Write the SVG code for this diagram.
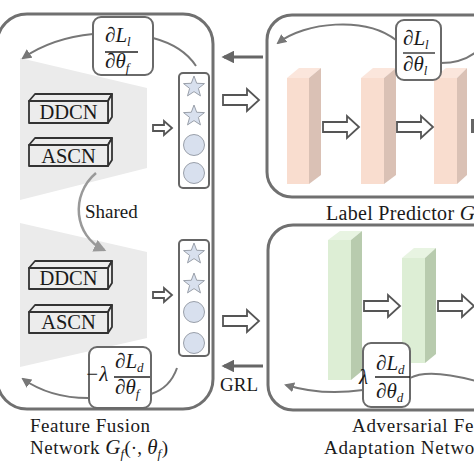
<svg xmlns="http://www.w3.org/2000/svg" width="474" height="474" viewBox="0 0 474 474">
<style>
.panel{fill:none;stroke:#707070;stroke-width:3}
.lbox{fill:#fff;stroke:#6a6a6a;stroke-width:2}
.trap{fill:#ebebeb;stroke:none}
.blk{fill:#ececec;stroke:#333;stroke-width:1.8;stroke-linejoin:round}
.col{fill:none;stroke:#666;stroke-width:2}
.star{fill:#d8e0ee;stroke:#9aa0aa;stroke-width:1}
.dot{fill:#d8e0ee;stroke:#9aa0aa;stroke-width:1}
.ha{fill:#fff;stroke:#555;stroke-width:1.8;stroke-linejoin:miter}
.cur{fill:none;stroke:#777;stroke-width:2}
.gl{fill:none;stroke:#666;stroke-width:3.2}
.t{font-family:"Liberation Serif","Times New Roman",serif;fill:#1a1a1a}
.m{font-family:"Liberation Serif","Times New Roman",serif;font-style:italic;fill:#1a1a1a;font-size:21px}
.s{font-size:13px}
.fl{stroke:#222;stroke-width:1.3}
.pf{fill:#f9ddcf}
.ps{fill:#dac1b5}
.pt{fill:#fbe6dc}
.gf{fill:#ddeed5}
.gs{fill:#b8cbae}
.gt{fill:#e8f4e2}
</style>
<defs>
<path id="star" d="M0,-11 L2.7,-3.72 L10.46,-3.4 L4.37,1.42 L6.47,8.9 L0,4.6 L-6.47,8.9 L-4.37,1.42 L-10.46,-3.4 L-2.7,-3.72 Z"/>
<path id="bigArrow" d="M0,-5 H24 V-11 L36,0 L24,11 V5 H0 Z"/>
<path id="smallArrow" d="M0,-3 H11 V-7 L19,0 L11,7 V3 H0 Z"/>
<marker id="ah" viewBox="0 0 10 10" refX="8" refY="5" markerWidth="5" markerHeight="5" orient="auto">
<path d="M0,0 L10,5 L0,10 Z" fill="#777"/>
</marker>
<marker id="ahs" viewBox="0 0 10 10" refX="8" refY="5" markerWidth="5" markerHeight="5" orient="auto">
<path d="M0,0 L10,5 L0,10 Z" fill="#999"/>
</marker>
<marker id="ahg" viewBox="0 0 10 10" refX="8" refY="5" markerWidth="4" markerHeight="4" orient="auto">
<path d="M0,0 L10,5 L0,10 Z" fill="#666"/>
</marker>
</defs>

<g id="feature-fusion-network">
<rect class="panel" x="-3" y="14" width="216" height="395" rx="30"/>
<g id="upper-branch">
<polygon class="trap" points="20,58 147,88 147,168 20,200"/>
<g id="ddcn-top">
<polygon class="blk" points="29,101 35,94 112,94 108,101"/>
<polygon class="blk" points="108,101 112,94 112,117 108,123"/>
<rect class="blk" x="29" y="101" width="79" height="22"/>
<text class="t" x="68.5" y="119" font-size="20.5" text-anchor="middle">DDCN</text>
</g>
<g id="ascn-top">
<polygon class="blk" points="29,145 35,138 112,138 108,145"/>
<polygon class="blk" points="108,145 112,138 112,160 108,166"/>
<rect class="blk" x="29" y="145" width="79" height="21"/>
<text class="t" x="68.5" y="163" font-size="20.5" text-anchor="middle">ASCN</text>
</g>
<use href="#smallArrow" class="ha" transform="translate(153,128)"/>
<g id="features-top">
<rect class="col" x="179" y="73" width="30" height="115" rx="4"/>
<use href="#star" class="star" transform="translate(194,87)"/>
<use href="#star" class="star" transform="translate(194,116)"/>
<circle class="dot" cx="194" cy="145" r="10.5"/>
<circle class="dot" cx="194" cy="173" r="10.5"/>
</g>
</g>
<g id="lower-branch">
<polygon class="trap" points="20,223 147,252 147,338 20,367"/>
<g id="ddcn-bottom">
<polygon class="blk" points="29,268 35,261 112,261 108,268"/>
<polygon class="blk" points="108,268 112,261 112,283 108,289"/>
<rect class="blk" x="29" y="268" width="79" height="21"/>
<text class="t" x="68.5" y="285" font-size="20.5" text-anchor="middle">DDCN</text>
</g>
<g id="ascn-bottom">
<polygon class="blk" points="29,312 35,305 112,305 108,312"/>
<polygon class="blk" points="108,312 112,305 112,327 108,333"/>
<rect class="blk" x="29" y="312" width="79" height="21"/>
<text class="t" x="68.5" y="329" font-size="20.5" text-anchor="middle">ASCN</text>
</g>
<use href="#smallArrow" class="ha" transform="translate(153,295)"/>
<g id="features-bottom">
<rect class="col" x="179" y="240" width="30" height="116" rx="4"/>
<use href="#star" class="star" transform="translate(194,254)"/>
<use href="#star" class="star" transform="translate(194,284)"/>
<circle class="dot" cx="194" cy="312" r="10.5"/>
<circle class="dot" cx="194" cy="343" r="10.5"/>
</g>
</g>
<text class="t" x="85" y="218" font-size="19">Shared</text>
</g>

<g id="label-predictor">
<rect class="panel" x="267" y="15" width="240" height="182" rx="25"/>
<g id="lp-layer1">
<polygon class="pt" points="287,78 299,68 321,68 309,78"/>
<polygon class="ps" points="309,78 321,68 321,175 309,184"/>
<rect class="pf" x="287" y="78" width="22" height="106"/>
</g>
<g id="lp-layer2">
<polygon class="pt" points="361,78 373,68 396,68 384,78"/>
<polygon class="ps" points="384,78 396,68 396,175 384,184"/>
<rect class="pf" x="361" y="78" width="23" height="106"/>
</g>
<g id="lp-layer3">
<polygon class="pt" points="434,78 446,68 467,68 457,78"/>
<polygon class="ps" points="457,78 467,68 467,175 457,184"/>
<rect class="pf" x="434" y="78" width="23" height="106"/>
</g>
<use href="#bigArrow" class="ha" transform="translate(323,127)"/>
<use href="#bigArrow" class="ha" transform="translate(397,127)"/>
<rect x="471" y="119" width="5" height="14" fill="#666"/>
<text class="t" x="326" y="220" font-size="20" letter-spacing="0.3">Label Predictor <tspan class="m" font-size="20" letter-spacing="0">G</tspan><tspan class="m s" dy="4">l</tspan></text>
</g>

<g id="adversarial-network">
<rect class="panel" x="268" y="225" width="240" height="185" rx="25"/>
<g id="ad-layer1">
<polygon class="gt" points="328,240 340,231 362,231 351,240"/>
<polygon class="gs" points="351,240 362,231 362,371 351,380"/>
<rect class="gf" x="328" y="240" width="23" height="140"/>
</g>
<g id="ad-layer2">
<polygon class="gt" points="402,258 414,248 436,248 425,258"/>
<polygon class="gs" points="425,258 436,248 436,354 425,363"/>
<rect class="gf" x="402" y="258" width="23" height="105"/>
</g>
<use href="#bigArrow" class="ha" transform="translate(364,306)"/>
<use href="#bigArrow" class="ha" transform="translate(438,306)"/>
<text class="t" x="352" y="432" font-size="19" letter-spacing="0.7">Adversarial Feature</text>
<text class="t" x="324" y="454" font-size="19" letter-spacing="0.7">Adaptation Network</text>
</g>

<g id="connectors">
<path class="cur" d="M93,34 Q52,38 23,58" marker-end="url(#ah)"/>
<path class="cur" d="M153,38 Q183,46 196,66"/>
<path class="cur" d="M396,40 C365,16 305,22 278,43" marker-end="url(#ah)"/>
<path class="cur" d="M441,63 Q462,63 476,52"/>
<path class="cur" d="M88,398 Q50,398 23,379" marker-end="url(#ah)"/>
<path class="cur" d="M151,394 Q170,388 177,368"/>
<path class="cur" d="M363,390 Q322,396 286,385" marker-end="url(#ah)"/>
<path class="cur" d="M410,378 Q428,368 476,381"/>
<path d="M96,173 C70,195 74,236 104,250" fill="none" stroke="#999" stroke-width="2.5" marker-end="url(#ahs)"/>
<path class="gl" d="M263,57 H224" marker-end="url(#ahg)"/>
<path class="gl" d="M263,366 H224" marker-end="url(#ahg)"/>
<use href="#bigArrow" class="ha" transform="translate(223,100)"/>
<use href="#bigArrow" class="ha" transform="translate(223,321)"/>
<text class="t" x="220" y="391" font-size="19">GRL</text>
</g>

<g id="grad-lf">
<rect class="lbox" x="93" y="17" width="60" height="58" rx="8"/>
<text class="m" x="105" y="42">∂L<tspan class="s" dy="4">l</tspan></text>
<line class="fl" x1="105" y1="52" x2="138" y2="52"/>
<text class="m" x="105" y="68">∂θ<tspan class="s" dy="4">f</tspan></text>
</g>
<g id="grad-ll">
<rect class="lbox" x="396" y="20" width="45" height="60" rx="8"/>
<text class="m" x="403" y="45">∂L<tspan class="s" dy="4">l</tspan></text>
<line class="fl" x1="403" y1="53" x2="435" y2="53"/>
<text class="m" x="403" y="71">∂θ<tspan class="s" dy="4">l</tspan></text>
</g>
<g id="grad-df">
<rect class="lbox" x="89" y="347" width="62" height="61" rx="8"/>
<text class="m" x="85" y="381">−λ</text>
<text class="m" x="115" y="368">∂L<tspan class="s" dy="4">d</tspan></text>
<line class="fl" x1="114" y1="377" x2="150" y2="377"/>
<text class="m" x="115" y="394">∂θ<tspan class="s" dy="4">f</tspan></text>
</g>
<g id="grad-dd">
<rect class="lbox" x="363" y="343" width="47" height="64" rx="8"/>
<text class="m" x="359" y="384">λ</text>
<text class="m" x="376" y="370">∂L<tspan class="s" dy="4">d</tspan></text>
<line class="fl" x1="375" y1="377" x2="410" y2="377"/>
<text class="m" x="376" y="398">∂θ<tspan class="s" dy="4">d</tspan></text>
</g>

<g id="caption-ffn">
<text class="t" x="30" y="432" font-size="19" letter-spacing="0.5">Feature Fusion</text>
<text class="t" x="30" y="454" font-size="19" letter-spacing="0.5">Network <tspan class="m" font-size="19" letter-spacing="0">G</tspan><tspan class="m s" dy="4">f</tspan><tspan dy="-4" letter-spacing="0">(·,</tspan><tspan class="m" font-size="19" letter-spacing="0"> θ</tspan><tspan class="m s" dy="4">f</tspan><tspan dy="-4">)</tspan></text>
</g>
</svg>
